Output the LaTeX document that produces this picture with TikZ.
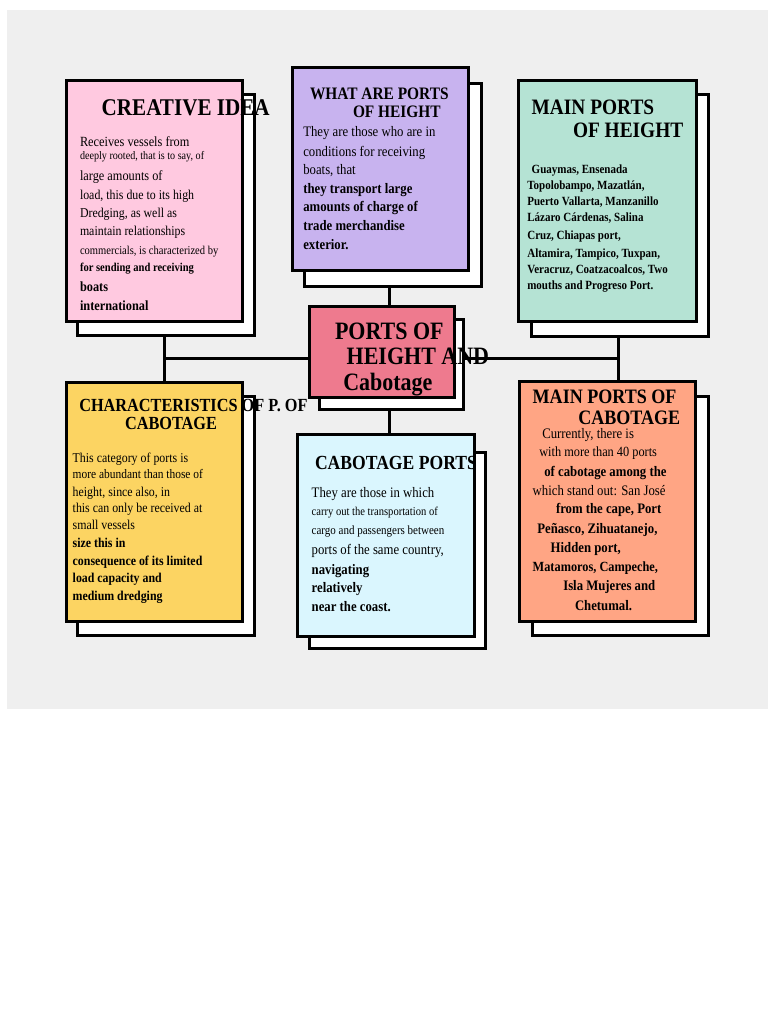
\documentclass[tikz,border=0pt]{standalone}
\usepackage{fontspec}
\setmainfont[FakeStretch=0.88]{Liberation Serif}
\usetikzlibrary{fit}
\pgfdeclarelayer{back}
\pgfdeclarelayer{links}
\pgfsetlayers{back,links,main}
\newcommand\fs[1]{\fontsize{#1}{#1}\selectfont}
\definecolor{bgray}{HTML}{EFEFEF}
\definecolor{cpink}{HTML}{FFC9E0}
\definecolor{cpurple}{HTML}{C8B3EF}
\definecolor{cgreen}{HTML}{B5E3D4}
\definecolor{cyellow}{HTML}{FCD462}
\definecolor{ccyan}{HTML}{DAF6FE}
\definecolor{csalmon}{HTML}{FFA584}
\definecolor{crose}{HTML}{EE7A8E}
\begin{document}
\begin{tikzpicture}[x=1pt,y=-1pt,
  txt/.style={anchor=base west, inner sep=0pt, outer sep=0pt, text=black},
  ttl/.style={txt, font=\bfseries},
  boxbase/.style={draw=black, line width=3pt, inner sep=0pt, outer sep=0pt},
  shadowbox/.style={boxbase, fill=white},
  frontbox/.style={boxbase, fill=#1},
  link/.style={draw=black, line width=3pt}]
\useasboundingbox (0,0) rectangle (768,1024);
\begin{pgfonlayer}{back}
\fill[white] (0,0) rectangle (768,1024);
\fill[bgray] (7,10) rectangle (768,709);
\end{pgfonlayer}

% shadows
\node[shadowbox, fit={(77.5,94.5)(254.5,335.5)}] (b1s) {};
\node[shadowbox, fit={(304,84)(481.5,286)}] (b2s) {};
\node[shadowbox, fit={(531.5,94.5)(708.5,336.5)}] (b3s) {};
\node[shadowbox, fit={(77.5,396.5)(254.5,635.5)}] (b4s) {};
\node[shadowbox, fit={(309.5,452.5)(485.5,648.5)}] (b5s) {};
\node[shadowbox, fit={(532.5,396.5)(708.5,635.5)}] (b6s) {};
\node[shadowbox, fit={(319.5,319.5)(463.5,409.5)}] (cens) {};
% fronts
\node[frontbox=cpink, fit={(66.5,80.5)(242.5,321.5)}] (b1) {};
\node[frontbox=cpurple, fit={(292.5,67.5)(468.5,270.5)}] (b2) {};
\node[frontbox=cgreen, fit={(518.5,80.5)(696.5,321.5)}] (b3) {};
\node[frontbox=cyellow, fit={(66.5,382.5)(242.5,621.5)}] (b4) {};
\node[frontbox=ccyan, fit={(297.5,434.5)(474.5,636.5)}] (b5) {};
\node[frontbox=csalmon, fit={(519.5,381.5)(695.5,621.5)}] (b6) {};
\node[frontbox=crose, fit={(309.5,306.5)(454.5,397.5)}] (cen) {};

% connectors
\coordinate (cx) at (389,0);
\coordinate (lx) at (164,0);
\coordinate (rx) at (618,0);
\coordinate (hy) at (0,358);
\begin{pgfonlayer}{links}
\draw[link] (b2s.south -| cx) -- (cen.north -| cx);
\draw[link] (cen.south -| cx) -- (b5.north -| cx);
\draw[link] (b1s.south -| lx) -- (b4.north -| lx);
\draw[link] (lx |- hy) -- (cen.west |- hy);
\draw[link] (b3s.south -| rx) -- (b6.north -| rx);
\draw[link] (cen.east |- hy) -- (rx |- hy);
\end{pgfonlayer}

% titles
\node[ttl] (t1) at (101.7,116) {\fs{24}CREATIVE IDEA};
\node[ttl] (t2a) at (310,99.3) {\fs{17.5}WHAT ARE PORTS};
\node[ttl] (t2b) at (353,117.3) {\fs{17.5}OF HEIGHT};
\node[ttl] (t3a) at (531.7,114.3) {\fs{22}MAIN PORTS};
\node[ttl] (t3b) at (573,137.7) {\fs{22}OF HEIGHT};
\node[ttl] (t4a) at (79.3,411.7) {\fs{18.5}CHARACTERISTICS OF P. OF};
\node[ttl] (t4b) at (125,429.3) {\fs{18.5}CABOTAGE};
\node[ttl] (t5) at (315,469.3) {\fs{20}CABOTAGE PORTS};
\node[ttl] (t6a) at (532.7,403.3) {\fs{20.5}MAIN PORTS OF};
\node[ttl] (t6b) at (578.3,424.3) {\fs{20.5}CABOTAGE};
\node[ttl] (tc1) at (335,339) {\fs{25}PORTS OF};
\node[ttl] (tc2) at (346.7,364) {\fs{25}HEIGHT AND};
\node[ttl] (tc3) at (343.3,390) {\fs{25}Cabotage};

% body texts
\foreach \x/\y/\t [count=\i] in {
  80/146.7/{\fs{14}Receives vessels from},
  80/160/{\fs{11.5}deeply rooted, that is to say, of},
  80/181/{\fs{14}large amounts of},
  80/200/{\fs{13.5}load, this due to its high},
  80/217.7/{\fs{13.5}Dredging, as well as},
  80/236/{\fs{13.5}maintain relationships},
  80/254/{\fs{12}commercials, is characterized by},
  80/271.7/{\fs{12}\bfseries for sending and receiving},
  80/291.7/{\fs{14}\bfseries boats},
  80/310/{\fs{14}\bfseries international}}
  {\node[txt] (ci\i) at (\x,\y) {\t};}

\foreach \x/\y/\t [count=\i] in {
  303.3/137/{\fs{14.5}They are those who are in},
  303.3/156.5/{\fs{14.5}conditions for receiving},
  303.3/175/{\fs{14.5}boats, that},
  303.3/193.5/{\fs{14.5}\bfseries they transport large},
  303.3/212/{\fs{14.5}\bfseries amounts of charge of},
  303.3/231/{\fs{14.5}\bfseries trade merchandise},
  303.3/249.5/{\fs{14.5}\bfseries exterior.}}
  {\node[txt] (wp\i) at (\x,\y) {\t};}

\foreach \x/\y/\t [count=\i] in {
  531.7/174/{Guaymas, Ensenada},
  527.3/190/{Topolobampo, Mazatlán,},
  527.3/206/{Puerto Vallarta, Manzanillo},
  527.3/222/{Lázaro Cárdenas, Salina},
  527.3/240/{Cruz, Chiapas port,},
  527.3/257/{Altamira, Tampico, Tuxpan,},
  527.3/273/{Veracruz, Coatzacoalcos, Two},
  527.3/289/{mouths and Progreso Port.}}
  {\node[txt, font=\bfseries\fs{12.5}] (mh\i) at (\x,\y) {\t};}

\foreach \x/\y/\t [count=\i] in {
  72.7/462.5/{\fs{13.5}This category of ports is},
  72.7/478.3/{\fs{13}more abundant than those of},
  72.7/496/{\fs{13.5}height, since also, in},
  72.7/512.7/{\fs{13.5}this can only be received at},
  72.7/529.5/{\fs{13.5}small vessels},
  72.7/547/{\fs{13.5}\bfseries size this in},
  72.7/565.5/{\fs{13.5}\bfseries consequence of its limited},
  72.7/582.5/{\fs{13.5}\bfseries load capacity and},
  72.7/600/{\fs{13.5}\bfseries medium dredging}}
  {\node[txt] (ch\i) at (\x,\y) {\t};}

\foreach \x/\y/\t [count=\i] in {
  311.7/497/{\fs{14.5}They are those in which},
  311.7/515/{\fs{12}carry out the transportation of},
  311.7/534/{\fs{12.5}cargo and passengers between},
  311.7/554/{\fs{14.5}ports of the same country,},
  311.7/574/{\fs{14.5}\bfseries navigating},
  311.7/592/{\fs{14.5}\bfseries relatively},
  311.7/611/{\fs{14.5}\bfseries near the coast.}}
  {\node[txt] (cp\i) at (\x,\y) {\t};}

\foreach \x/\y/\t [count=\i] in {
  542.3/438.5/{\fs{14.5}Currently, there is},
  539.3/456.5/{\fs{14}with more than 40 ports},
  544.3/476/{\fs{14.5}\bfseries of cabotage among the},
  532.7/495.5/{\fs{14.5}which stand out: San José},
  556/513/{\fs{14.5}\bfseries from the cape, Port},
  537.3/533.5/{\fs{14.5}\bfseries Peñasco, Zihuatanejo,},
  550.7/552.5/{\fs{14.5}\bfseries Hidden port,},
  532.7/571.5/{\fs{14}\bfseries Matamoros, Campeche,},
  563.3/590.5/{\fs{14.5}\bfseries Isla Mujeres and},
  575/610/{\fs{14.5}\bfseries Chetumal.}}
  {\node[txt] (mc\i) at (\x,\y) {\t};}
\end{tikzpicture}
\end{document}
